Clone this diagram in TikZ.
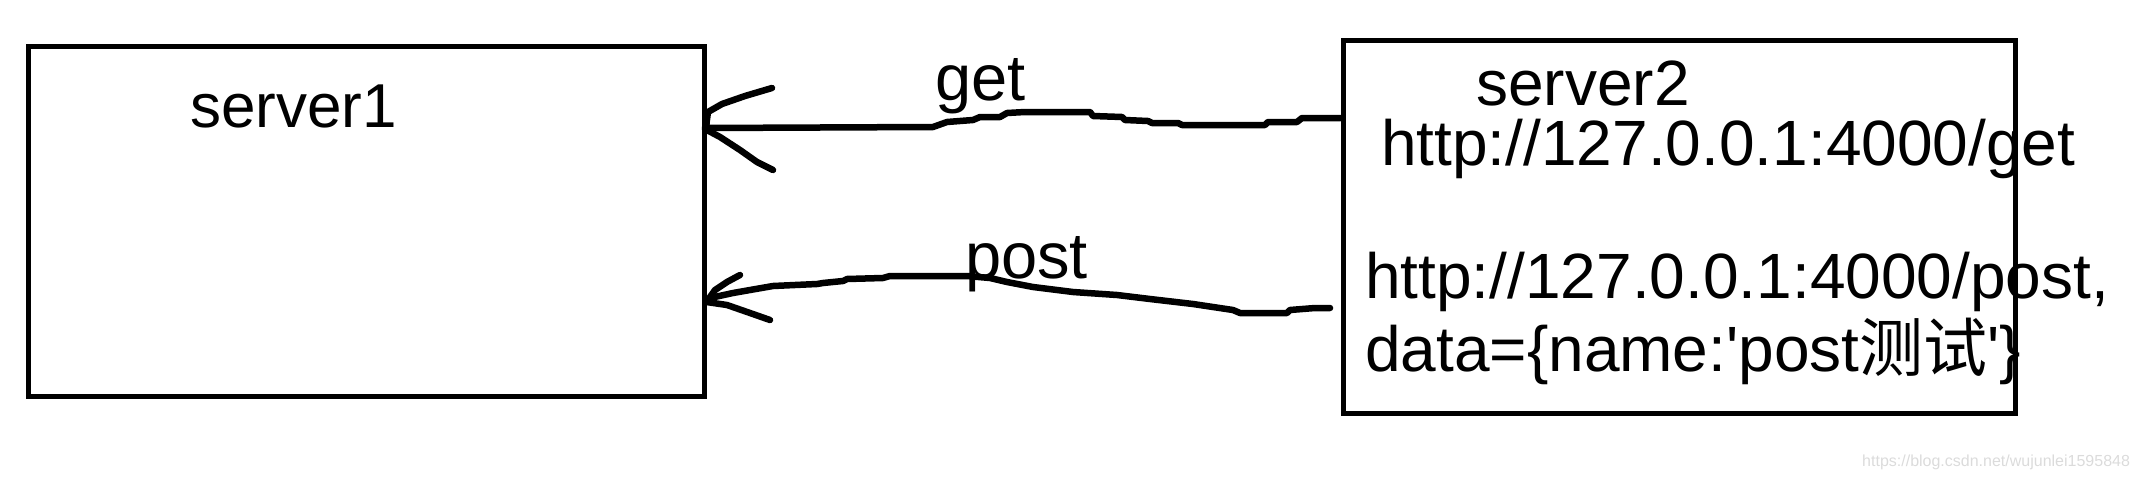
\documentclass[tikz,border=0pt]{standalone}
\usepackage{fontspec}
\setmainfont{Liberation Sans}[Ligatures=TeXOff]
\newfontfamily\cjk{Noto Sans CJK SC}
\begin{document}
\begin{tikzpicture}[x=1pt,y=-1pt,
  box/.style={draw=black,line width=5pt,minimum width=#1,inner sep=0pt},
  lbl/.style={inner sep=0pt,anchor=base west,font=\fontsize{64}{70}\selectfont},
  hand/.style={draw=black,line width=6.5pt,line cap=round,line join=round}]
\useasboundingbox (0,0) rectangle (2138,480);
% boxes
\node[box=676pt,minimum height=350pt] (s1) at (366,221) {};
\node[box=672pt,minimum height=373pt] (s2) at (1679,226.5) {};
% texts
\node[lbl,font=\fontsize{62}{70}\selectfont] (t1) at (190,127) {server1};
\node[lbl] (t2) at (1476,105) {server2};
\node[lbl] (u1) at (1381,165) {http://127.0.0.1:4000/get};
\node[lbl] (u2) at (1365,298) {http://127.0.0.1:4000/post,};
\node[lbl] (u3) at (1365,371) {data=\{name:'post{\cjk 测试}'\}};
\node[lbl,font=\fontsize{65}{70}\selectfont] (lg) at (935,100) {get};
\node[lbl,font=\fontsize{65}{70}\selectfont] (lp) at (965,278) {post};
\node[inner sep=0pt,anchor=west,text=black!14,font=\fontsize{16}{18}\selectfont] (wm) at (1862,462) {https://blog.csdn.net/wujunlei1595848};
% connector ends
\coordinate (gs) at (s2.west |- 0,118);
\coordinate (gt) at (s1.east |- 0,123);
\coordinate (ps) at (1330,308);
\coordinate (pt) at (s1.east |- 0,302);
% get arrow
\draw[hand] (gs) -- (1302,118) -- (1297,122) -- (1268,122) -- (1265,125) -- (1182,125) -- (1178,123)
  -- (1152,123) -- (1148,121) -- (1125,120) -- (1122,117) -- (1093,116) -- (1090,112) -- (1025,112)
  -- (1007,113) -- (1000,117) -- (980,117) -- (973,120) -- (947,122) -- (933,127) -- (705,128) -- (gt);
\draw[hand] (gt) -- (708,112) -- (722,104) -- (745,96) -- (772,88);
\draw[hand] (gt) -- (705,129) -- (720,137) -- (740,150) -- (757,162) -- (773,170);
% post arrow
\draw[hand] (ps) -- (1315,308) -- (1290,310) -- (1287,313) -- (1240,313) -- (1233,310) -- (1193,304)
  -- (1150,299) -- (1117,295) -- (1073,292) -- (1033,287) -- (1007,282) -- (990,278) -- (967,276)
  -- (890,276) -- (883,278) -- (847,279) -- (843,281) -- (823,283) -- (817,284) -- (773,286)
  -- (750,290) -- (733,293) -- (710,298) -- (pt);
\draw[hand] (pt) -- (715,290) -- (727,282) -- (740,275);
\draw[hand] (pt) -- (727,305) -- (750,313) -- (770,320);
\end{tikzpicture}
\end{document}
